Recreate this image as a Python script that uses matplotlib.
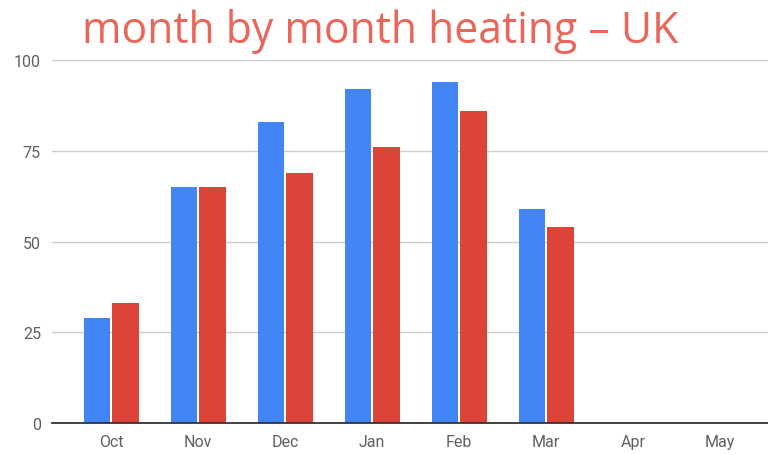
import matplotlib
matplotlib.use("Agg")
import matplotlib.pyplot as plt
import numpy as np

# values
months = ["Oct", "Nov", "Dec", "Jan", "Feb", "Mar", "Apr", "May"]
series_a = [29, 65, 83, 92, 94, 59, 0, 0]
series_b = [33, 65, 69, 76, 86, 54, 0, 0]
y_ticks = [0, 25, 50, 75, 100]

plt.rcParams["font.family"] = ["Roboto", "DejaVu Sans"]

fig = plt.figure(figsize=(7.68, 4.56), dpi=100)
ax = fig.add_axes([52 / 768, 1 - 424.3 / 456, 716 / 768, 363.3 / 456])

x = np.arange(len(months))
w = 0.30
off = 0.165
ax.bar(x - off, series_a, width=w, color="#4285f4", zorder=3)
ax.bar(x + off, series_b, width=w, color="#db4437", zorder=3)

ax.set_xlim(-0.68, 7.55)
ax.set_ylim(0, 100)
ax.set_yticks(y_ticks)
ax.set_xticks(x)
ax.set_xticklabels(months)
ax.tick_params(axis="both", length=0, labelsize=11.5, labelcolor="#5f5f5f")
ax.tick_params(axis="x", pad=8)
ax.tick_params(axis="y", pad=8)
ax.yaxis.grid(True, color="#cccccc", linewidth=1, zorder=0)
for side in ["top", "right", "left"]:
    ax.spines[side].set_visible(False)
ax.spines["bottom"].set_color("#333333")
ax.spines["bottom"].set_linewidth(1.3)
ax.spines["bottom"].set_zorder(4)

fig.text(82 / 768, 1 - 43 / 456, "month by month heating – UK",
         color="#e8675a", fontsize=30.8, ha="left", va="baseline",
         family=["Open Sans", "DejaVu Sans"])

fig.savefig("out.png", dpi=100)
